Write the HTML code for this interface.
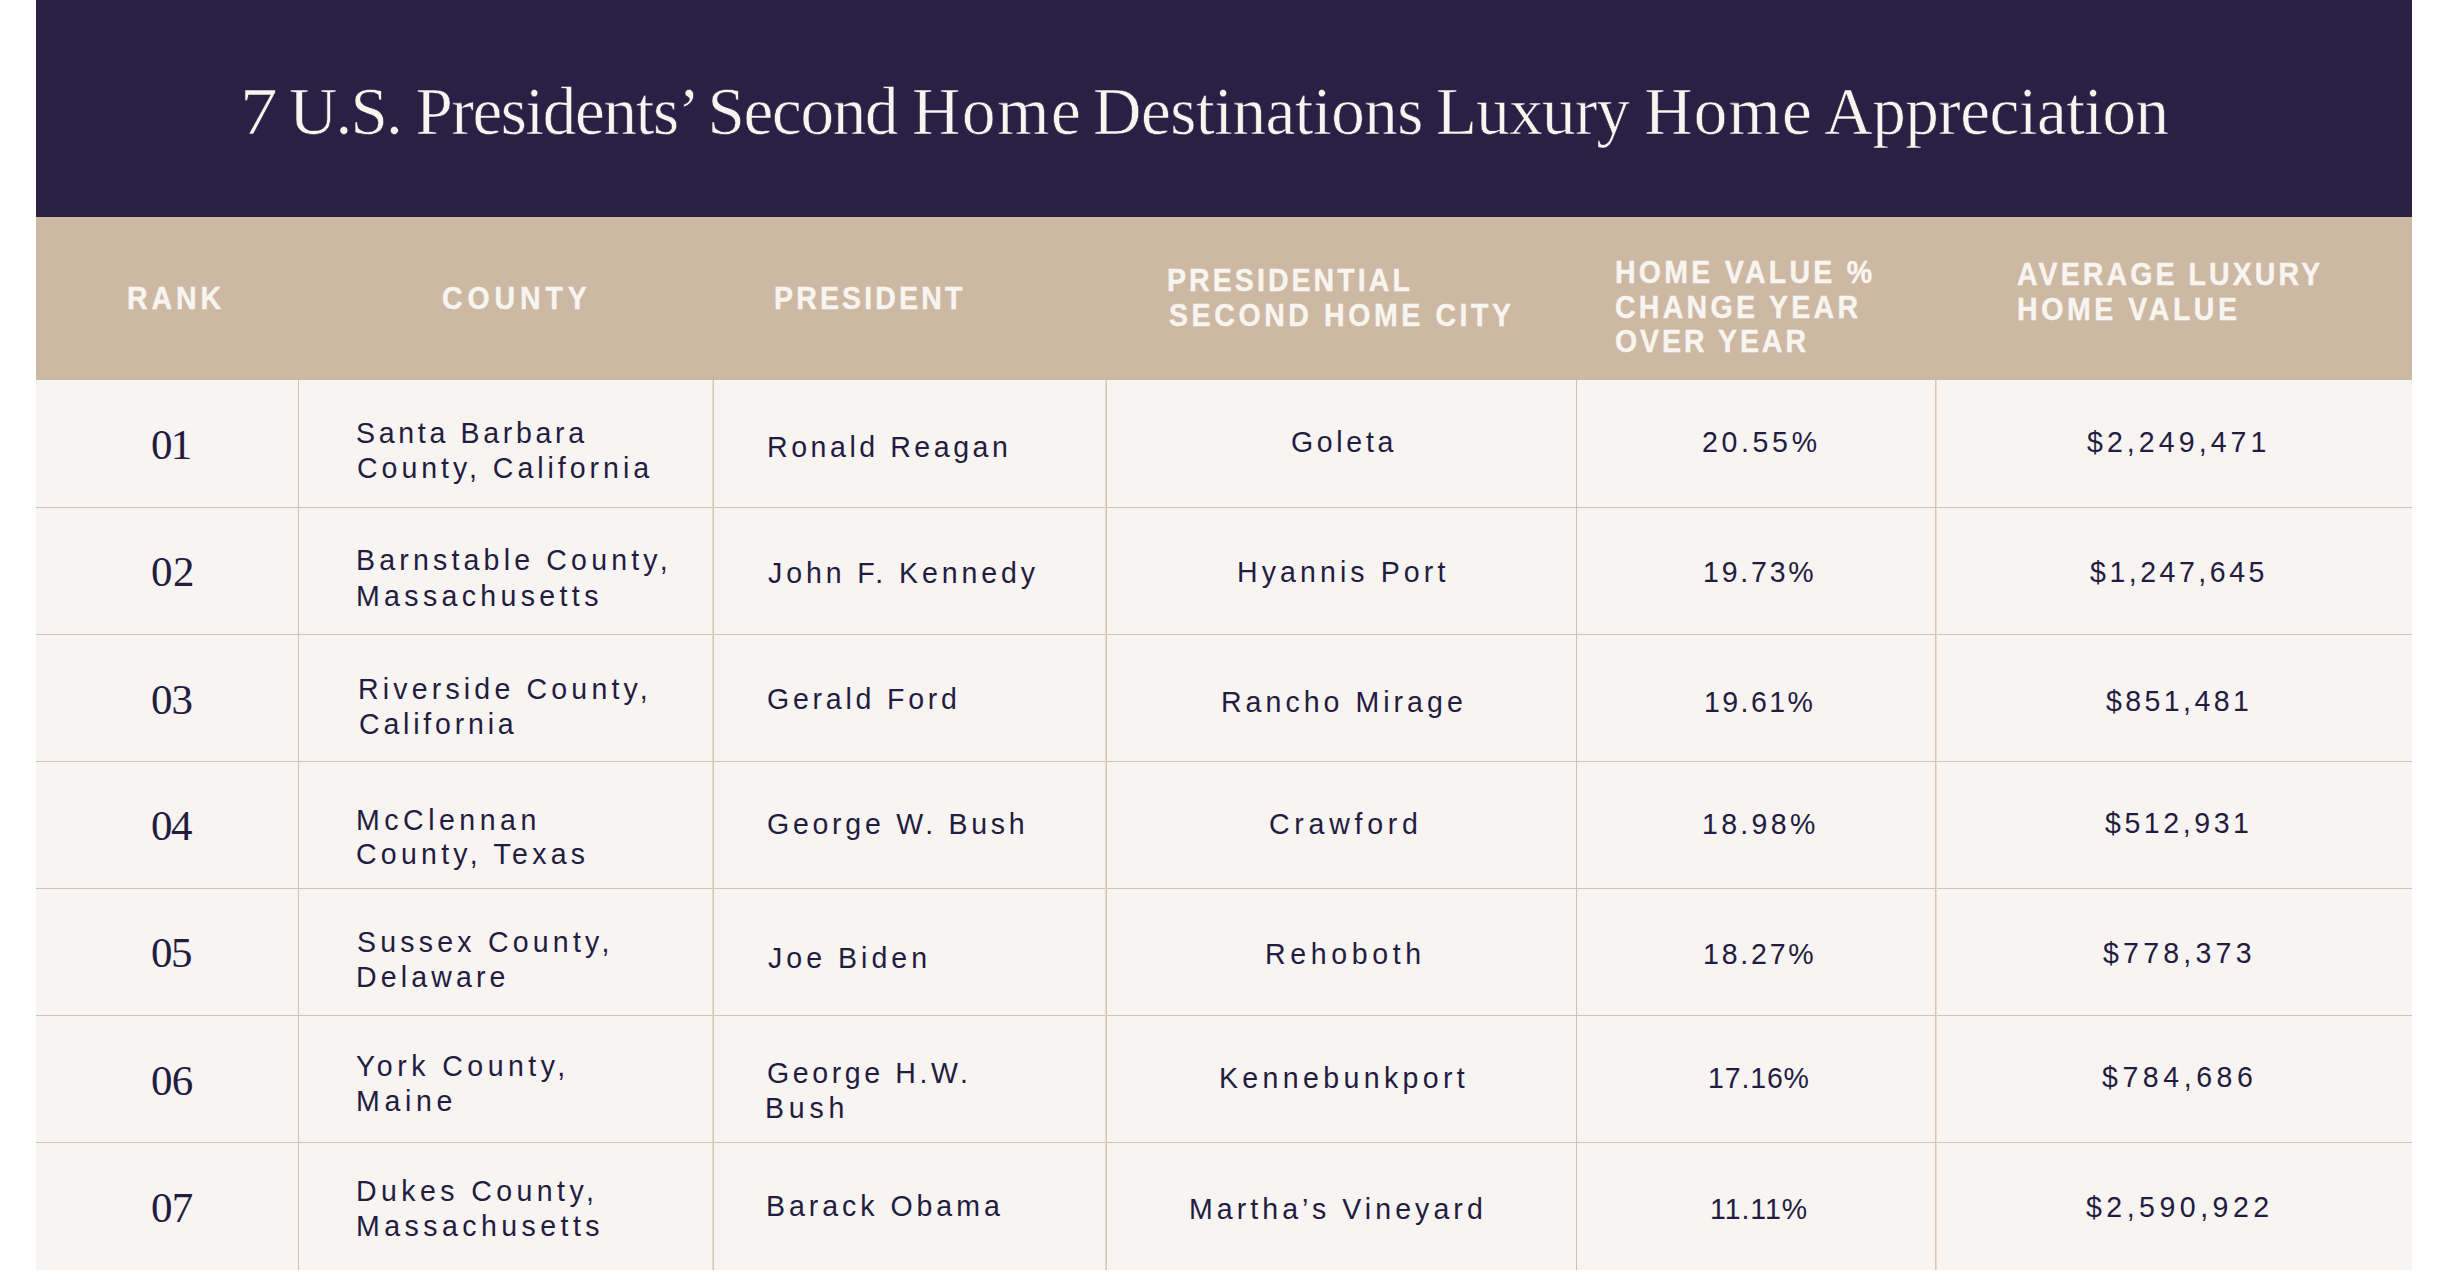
<!DOCTYPE html><html><head><meta charset="utf-8"><title>7 U.S. Presidents’ Second Home Destinations Luxury Home Appreciation</title><style>
html,body{margin:0;padding:0;background:#ffffff;width:2448px;height:1282px;overflow:hidden;position:relative}
.t{position:absolute;white-space:pre;margin:0;transform-origin:0 0}
.s{font-family:"Liberation Sans",sans-serif;font-size:30px;line-height:40px;color:#231c41}
.h{font-family:"Liberation Sans",sans-serif;font-weight:bold;font-size:31px;line-height:40px;color:#f8f5f0;-webkit-text-stroke:0.4px #f8f5f0}
.r{font-family:"Liberation Serif",serif;font-size:43px;line-height:50px;color:#231c41}
.ti{font-family:"Liberation Serif",serif;font-size:67px;line-height:80px;color:#f8f5ef;-webkit-text-stroke:0.6px #2a1f45}
.b{position:absolute}
</style></head><body>
<div class="b" style="left:36px;top:0;width:2376px;height:217px;background:#2a1f45"></div>
<div class="b" style="left:36px;top:217px;width:2376px;height:163px;background:#cdb8a3"></div>
<div class="b" style="left:36px;top:380px;width:2376px;height:890px;background:#f7f4f1"></div>
<div class="b" style="left:36px;top:507px;width:2376px;height:1px;background:#d6c4aa"></div>
<div class="b" style="left:36px;top:634px;width:2376px;height:1px;background:#d6c4aa"></div>
<div class="b" style="left:36px;top:761px;width:2376px;height:1px;background:#d6c4aa"></div>
<div class="b" style="left:36px;top:888px;width:2376px;height:1px;background:#d6c4aa"></div>
<div class="b" style="left:36px;top:1015px;width:2376px;height:1px;background:#d6c4aa"></div>
<div class="b" style="left:36px;top:1142px;width:2376px;height:1px;background:#d6c4aa"></div>
<div class="b" style="left:298px;top:380px;width:1px;height:890px;background:#d4c2a6"></div>
<div class="b" style="left:712px;top:380px;width:1px;height:890px;background:#e6dbcc"></div>
<div class="b" style="left:713px;top:380px;width:1px;height:890px;background:#d8c7ae"></div>
<div class="b" style="left:1105px;top:380px;width:1px;height:890px;background:#e6dbcc"></div>
<div class="b" style="left:1106px;top:380px;width:1px;height:890px;background:#d8c7ae"></div>
<div class="b" style="left:1576px;top:380px;width:1px;height:890px;background:#d4c0a6"></div>
<div class="b" style="left:1935px;top:380px;width:1px;height:890px;background:#d8c7ae"></div>
<div class="b" style="left:1936px;top:380px;width:1px;height:890px;background:#e6dbcc"></div>
<div class="t ti" style="left:239.85px;top:71px;letter-spacing:0.000px;transform:scaleX(1.120)">7</div>
<div class="t ti" style="left:289.09px;top:71px;letter-spacing:-1.858px">U.S.</div>
<div class="t ti" style="left:415.47px;top:71px;letter-spacing:-1.321px">Presidents’</div>
<div class="t ti" style="left:707.62px;top:71px;letter-spacing:-1.248px">Second</div>
<div class="t ti" style="left:911.97px;top:71px;letter-spacing:1.672px">Home</div>
<div class="t ti" style="left:1093.07px;top:71px;letter-spacing:-0.420px">Destinations</div>
<div class="t ti" style="left:1435.97px;top:71px;letter-spacing:-0.629px">Luxury</div>
<div class="t ti" style="left:1644.17px;top:71px;letter-spacing:1.272px">Home</div>
<div class="t ti" style="left:1824.35px;top:71px;letter-spacing:-0.462px">Appreciation</div>
<div class="t h" style="left:126.93px;top:279px;letter-spacing:4.216px;transform:scaleX(0.920)">RANK</div>
<div class="t h" style="left:441.53px;top:279px;letter-spacing:5.289px;transform:scaleX(0.920)">COUNTY</div>
<div class="t h" style="left:773.65px;top:279px;letter-spacing:3.411px;transform:scaleX(0.920)">PRESIDENT</div>
<div class="t h" style="left:1167.43px;top:261px;letter-spacing:3.324px;transform:scaleX(0.920)">PRESIDENTIAL</div>
<div class="t h" style="left:1168.52px;top:296px;letter-spacing:3.894px;transform:scaleX(0.920)">SECOND HOME CITY</div>
<div class="t h" style="left:1614.57px;top:253px;letter-spacing:3.545px;transform:scaleX(0.920)">HOME VALUE %</div>
<div class="t h" style="left:1615.31px;top:288px;letter-spacing:3.560px;transform:scaleX(0.920)">CHANGE YEAR</div>
<div class="t h" style="left:1615.31px;top:322px;letter-spacing:3.196px;transform:scaleX(0.920)">OVER YEAR</div>
<div class="t h" style="left:2017.05px;top:255px;letter-spacing:3.357px;transform:scaleX(0.920)">AVERAGE LUXURY</div>
<div class="t h" style="left:2016.65px;top:290px;letter-spacing:3.867px;transform:scaleX(0.920)">HOME VALUE</div>
<div class="t r" style="left:150.94px;top:420px;letter-spacing:-1.680px">01</div>
<div class="t r" style="left:150.94px;top:547px;letter-spacing:0.490px">02</div>
<div class="t r" style="left:150.94px;top:675px;letter-spacing:-0.823px">03</div>
<div class="t r" style="left:150.94px;top:801px;letter-spacing:-1.330px">04</div>
<div class="t r" style="left:150.94px;top:928px;letter-spacing:-1.323px">05</div>
<div class="t r" style="left:150.94px;top:1056px;letter-spacing:-0.722px">06</div>
<div class="t r" style="left:150.94px;top:1183px;letter-spacing:-0.764px">07</div>
<div class="t s" style="left:356.35px;top:413px;letter-spacing:3.883px;transform:scaleX(0.950)">Santa Barbara</div>
<div class="t s" style="left:356.99px;top:448px;letter-spacing:4.188px;transform:scaleX(0.950)">County, California</div>
<div class="t s" style="left:356.38px;top:540px;letter-spacing:4.418px;transform:scaleX(0.950)">Barnstable County,</div>
<div class="t s" style="left:356.38px;top:576px;letter-spacing:4.588px;transform:scaleX(0.950)">Massachusetts</div>
<div class="t s" style="left:358.02px;top:669px;letter-spacing:4.404px;transform:scaleX(0.950)">Riverside County,</div>
<div class="t s" style="left:358.91px;top:704px;letter-spacing:4.016px;transform:scaleX(0.950)">California</div>
<div class="t s" style="left:355.52px;top:800px;letter-spacing:4.758px;transform:scaleX(0.950)">McClennan</div>
<div class="t s" style="left:356.41px;top:834px;letter-spacing:4.484px;transform:scaleX(0.950)">County, Texas</div>
<div class="t s" style="left:356.57px;top:922px;letter-spacing:4.440px;transform:scaleX(0.950)">Sussex County,</div>
<div class="t s" style="left:355.52px;top:957px;letter-spacing:4.360px;transform:scaleX(0.950)">Delaware</div>
<div class="t s" style="left:356.43px;top:1046px;letter-spacing:4.709px;transform:scaleX(0.950)">York County,</div>
<div class="t s" style="left:355.52px;top:1081px;letter-spacing:4.931px;transform:scaleX(0.950)">Maine</div>
<div class="t s" style="left:355.52px;top:1171px;letter-spacing:4.654px;transform:scaleX(0.950)">Dukes County,</div>
<div class="t s" style="left:355.52px;top:1206px;letter-spacing:4.697px;transform:scaleX(0.950)">Massachusetts</div>
<div class="t s" style="left:766.52px;top:427px;letter-spacing:3.751px;transform:scaleX(0.950)">Ronald Reagan</div>
<div class="t s" style="left:767.77px;top:553px;letter-spacing:4.105px;transform:scaleX(0.950)">John F. Kennedy</div>
<div class="t s" style="left:767.01px;top:679px;letter-spacing:3.985px;transform:scaleX(0.950)">Gerald Ford</div>
<div class="t s" style="left:767.01px;top:804px;letter-spacing:3.933px;transform:scaleX(0.950)">George W. Bush</div>
<div class="t s" style="left:768.27px;top:938px;letter-spacing:4.251px;transform:scaleX(0.950)">Joe Biden</div>
<div class="t s" style="left:767.01px;top:1053px;letter-spacing:3.813px;transform:scaleX(0.950)">George H.W.</div>
<div class="t s" style="left:765.46px;top:1088px;letter-spacing:5.063px;transform:scaleX(0.950)">Bush</div>
<div class="t s" style="left:766.10px;top:1186px;letter-spacing:4.177px;transform:scaleX(0.950)">Barack Obama</div>
<div class="t s" style="left:1291.01px;top:422px;letter-spacing:3.863px;transform:scaleX(0.950)">Goleta</div>
<div class="t s" style="left:1237.16px;top:552px;letter-spacing:4.321px;transform:scaleX(0.950)">Hyannis Port</div>
<div class="t s" style="left:1221.16px;top:682px;letter-spacing:4.253px;transform:scaleX(0.950)">Rancho Mirage</div>
<div class="t s" style="left:1268.85px;top:804px;letter-spacing:5.010px;transform:scaleX(0.950)">Crawford</div>
<div class="t s" style="left:1264.66px;top:934px;letter-spacing:4.900px;transform:scaleX(0.950)">Rehoboth</div>
<div class="t s" style="left:1218.66px;top:1058px;letter-spacing:4.594px;transform:scaleX(0.950)">Kennebunkport</div>
<div class="t s" style="left:1189.38px;top:1189px;letter-spacing:4.283px;transform:scaleX(0.950)">Martha’s Vineyard</div>
<div class="t s" style="left:1702.15px;top:422px;letter-spacing:3.854px;transform:scaleX(0.950)">20.55%</div>
<div class="t s" style="left:1703.41px;top:552px;letter-spacing:2.956px;transform:scaleX(0.950)">19.73%</div>
<div class="t s" style="left:1703.83px;top:682px;letter-spacing:2.559px;transform:scaleX(0.950)">19.61%</div>
<div class="t s" style="left:1702.33px;top:804px;letter-spacing:3.506px;transform:scaleX(0.950)">18.98%</div>
<div class="t s" style="left:1703.41px;top:934px;letter-spacing:2.956px;transform:scaleX(0.950)">18.27%</div>
<div class="t s" style="left:1707.83px;top:1058px;letter-spacing:0.902px;transform:scaleX(0.950)">17.16%</div>
<div class="t s" style="left:1710.19px;top:1189px;letter-spacing:0.960px;transform:scaleX(0.950)">11.11%</div>
<div class="t s" style="left:2087.19px;top:422px;letter-spacing:4.293px;transform:scaleX(0.950)">$2,249,471</div>
<div class="t s" style="left:2090.19px;top:552px;letter-spacing:3.714px;transform:scaleX(0.950)">$1,247,645</div>
<div class="t s" style="left:2105.69px;top:681px;letter-spacing:3.605px;transform:scaleX(0.950)">$851,481</div>
<div class="t s" style="left:2105.41px;top:803px;letter-spacing:3.772px;transform:scaleX(0.950)">$512,931</div>
<div class="t s" style="left:2103.41px;top:933px;letter-spacing:4.464px;transform:scaleX(0.950)">$778,373</div>
<div class="t s" style="left:2102.41px;top:1057px;letter-spacing:4.804px;transform:scaleX(0.950)">$784,686</div>
<div class="t s" style="left:2085.69px;top:1187px;letter-spacing:4.735px;transform:scaleX(0.950)">$2,590,922</div>
</body></html>
